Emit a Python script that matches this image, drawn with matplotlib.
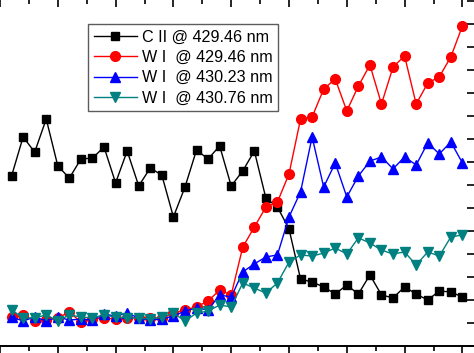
import matplotlib
matplotlib.use("Agg")
import matplotlib.pyplot as plt
from matplotlib.ticker import MultipleLocator
from matplotlib.lines import TICKDOWN

x = list(range(1, 41))

c2_42946 = [7.39, 9.09, 8.43, 9.87, 7.83, 7.30, 8.13, 8.17, 8.65, 7.09,
            8.48, 6.96, 7.74, 7.43, 5.61, 6.91, 8.52, 8.13, 8.70, 6.96,
            7.61, 8.48, 6.43, 6.04, 5.09, 2.91, 2.78, 2.57, 2.26, 2.65,
            2.26, 3.09, 2.22, 2.09, 2.57, 2.26, 2.00, 2.39, 2.35, 2.13]

w1_42946 = [1.26, 1.35, 1.09, 1.13, 1.22, 1.48, 1.04, 1.17, 1.22, 1.17,
            1.22, 1.22, 1.22, 1.22, 1.43, 1.57, 1.70, 1.96, 2.43, 2.22,
            4.30, 5.17, 6.04, 6.26, 7.48, 9.87, 9.96, 11.17, 11.61, 10.22,
            11.30, 12.22, 10.52, 12.13, 12.61, 10.52, 11.43, 11.70, 12.57, 13.91]

w1_43023 = [1.26, 1.09, 1.26, 1.09, 1.26, 1.13, 1.17, 1.13, 1.39, 1.30,
            1.43, 1.22, 1.13, 1.17, 1.30, 1.52, 1.65, 1.57, 2.22, 2.13,
            3.22, 3.57, 3.87, 3.96, 5.61, 6.70, 9.09, 6.91, 7.96, 6.48,
            7.39, 8.04, 8.22, 7.70, 8.22, 7.87, 8.83, 8.35, 8.87, 7.96]

w1_43076 = [1.57, 1.22, 1.22, 1.35, 1.09, 1.35, 1.26, 1.22, 1.35, 1.26,
            1.22, 1.22, 1.17, 1.26, 1.43, 1.09, 1.43, 1.52, 1.78, 1.70,
            2.74, 2.52, 2.30, 2.74, 3.65, 3.96, 3.91, 4.04, 4.26, 4.00,
            4.70, 4.48, 4.17, 4.00, 4.09, 3.52, 4.09, 3.91, 4.74, 4.83]

labels = ["C II @ 429.46 nm", "W I  @ 429.46 nm", "W I  @ 430.23 nm", "W I  @ 430.76 nm"]
colors = ["#000000", "#FF0000", "#0000FF", "#008080"]
markers = ["s", "o", "^", "v"]
sizes = [6.0, 7.0, 7.0, 7.0]

plt.rcParams['font.family'] = ['Liberation Sans', 'DejaVu Sans']

W, H = 474, 353
fig = plt.figure(figsize=(W / 100, H / 100), dpi=100)
L, R, B, T = -2, 475, 7, 354
ax = fig.add_axes([L / W, B / H, (R - L) / W, (T - B) / H])

for ys, lab, c, m, s in zip([c2_42946, w1_42946, w1_43023, w1_43076], labels, colors, markers, sizes):
    ax.plot(x, ys, color=c, marker=m, markersize=s, linewidth=1.0, label=lab,
            markeredgecolor=c, markerfacecolor=c, clip_on=False)

ax.set_xlim(-2 / 11.56, 475 / 11.56)
ax.set_ylim(0, 347 / 23)

ax.xaxis.set_major_locator(MultipleLocator(5))
ax.xaxis.set_minor_locator(MultipleLocator(2.5))
ax.yaxis.set_major_locator(MultipleLocator(2))
ax.yaxis.set_minor_locator(MultipleLocator(1))

ax.tick_params(axis='x', which='both', bottom=True, top=True, labelbottom=False, labeltop=False, direction='in')
ax.tick_params(axis='x', which='major', length=6, width=1.2)
ax.tick_params(axis='x', which='minor', length=3.5, width=1.2)
ax.tick_params(axis='y', which='both', left=False, right=True, labelleft=False, labelright=False, direction='in')
ax.tick_params(axis='y', which='major', length=6, width=1.2)
ax.tick_params(axis='y', which='minor', length=6, width=1.2)

for sp in ax.spines.values():
    sp.set_linewidth(1.4)

# bottom ticks point outward
for t in ax.xaxis.get_major_ticks() + ax.xaxis.get_minor_ticks():
    t.tick1line.set_marker(TICKDOWN)

leg = ax.legend(loc='upper left', bbox_to_anchor=((88 - L) / (R - L), 1 - (24 + 1) / (T - B)),
                frameon=True, fancybox=False, edgecolor='#333333', fontsize=11.6,
                handlelength=2.7, handletextpad=0.3, borderpad=0.35, labelspacing=0.33,
                borderaxespad=0)
leg.get_frame().set_linewidth(1.0)

fig.savefig("out.png", dpi=100)
